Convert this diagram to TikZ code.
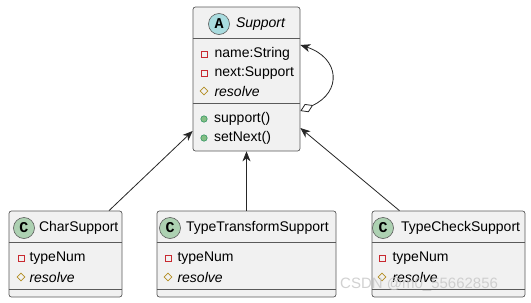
\documentclass[tikz,border=0pt]{standalone}
\usepackage{fontspec}
\setmainfont{Liberation Sans}
\newfontfamily\spotfont{Liberation Mono}
\usetikzlibrary{positioning,calc,arrows.meta,shapes.geometric}
\definecolor{cbg}{HTML}{F1F1F1}
\definecolor{cline}{HTML}{5A5A5A}
\definecolor{cspotA}{HTML}{A9DCDF}
\definecolor{cspotC}{HTML}{ADD1B2}
\definecolor{cpriv}{HTML}{C82930}
\definecolor{cprot}{HTML}{B38D22}
\definecolor{cpubfill}{HTML}{84BE84}
\definecolor{cpubline}{HTML}{038048}
\tikzset{cls/.style={draw=cline, fill=cbg, rounded corners=2.5pt, line width=0.7pt, inner sep=0pt}}
\tikzset{sep/.style={draw=cline, line width=0.7pt}}
\tikzset{spot/.style={circle, draw=cline, line width=0.6pt, minimum size=21pt, inner sep=0pt, font=\spotfont\bfseries\fontsize{15}{15}\selectfont}}
\tikzset{title/.style={anchor=west, inner sep=0pt, font=\fontsize{14}{16}\selectfont}}
\tikzset{mem/.style={anchor=west, inner sep=0pt, font=\fontsize{14}{16}\selectfont}}
\tikzset{priv/.style={draw=cpriv, line width=0.7pt, minimum size=6pt, inner sep=0pt}}
\tikzset{prot/.style={diamond, draw=cprot, line width=0.7pt, minimum size=8pt, inner sep=0pt}}
\tikzset{pub/.style={circle, fill=cpubfill, draw=cpubline, line width=0.4pt, minimum size=6.5pt, inner sep=0pt}}
\tikzset{inh/.style={-{Stealth[length=10pt, width=8pt, inset=3pt]}, line width=0.8pt, black!85}}

\begin{document}
\begin{tikzpicture}[x=1pt, y=-1pt]
        \useasboundingbox[fill=white] (0,0) rectangle (531,303);

        %%% ABSTRACT CLASS %%%
        \node[cls, minimum width=107pt, minimum height=144pt] (sup) at (246.5,79) {};
        \draw[sep] ($(sup.north west)+(0,32)$) -- ($(sup.north east)+(0,32)$);
        \draw[sep] ($(sup.north west)+(0,97)$) -- ($(sup.north east)+(0,97)$);
        \node[spot, fill=cspotA] (supspot) at (219,24) {A};
        \node[title, right=6pt of supspot] (supname) {\itshape Support};
        \node[priv] (supi1) at (204,54) {};
        \node[mem, right=7pt of supi1] (supm1) {name:String};
        \node[priv] (supi2) at (204,73) {};
        \node[mem, right=7pt of supi2] (supm2) {next:Support};
        \node[prot] (supi3) at (204,91) {};
        \node[mem, right=6pt of supi3] (supm3) {\itshape resolve};
        \node[pub] (supi4) at (204,119) {};
        \node[mem, right=6.5pt of supi4] (supm4) {support()};
        \node[pub] (supi5) at (204,138) {};
        \node[mem, right=6.5pt of supi5] (supm5) {setNext()};

        %%% SUBCLASSES %%%
        \node[cls, minimum width=113pt, minimum height=86pt] (chr) at (65.5,254) {};
        \draw[sep] ($(chr.north west)+(0,32)$) -- ($(chr.north east)+(0,32)$);
        \draw[sep] ($(chr.north west)+(0,79)$) -- ($(chr.north east)+(0,79)$);
        \node[spot, fill=cspotC] (chrspot) at (24,228) {C};
        \node[title, right=4pt of chrspot] (chrname) {CharSupport};
        \node[priv] (chri1) at (21,258) {};
        \node[mem, right=5pt of chri1] (chrm1) {typeNum};
        \node[prot] (chri2) at (21,277) {};
        \node[mem, right=4pt of chri2] (chrm2) {\itshape resolve};

        \node[cls, minimum width=179pt, minimum height=86pt] (tts) at (246.5,254) {};
        \draw[sep] ($(tts.north west)+(0,32)$) -- ($(tts.north east)+(0,32)$);
        \draw[sep] ($(tts.north west)+(0,79)$) -- ($(tts.north east)+(0,79)$);
        \node[spot, fill=cspotC] (ttsspot) at (170,228) {C};
        \node[title, right=5pt of ttsspot] (ttsname) {TypeTransformSupport};
        \node[priv] (ttsi1) at (168,258) {};
        \node[mem, right=6pt of ttsi1] (ttsm1) {typeNum};
        \node[prot] (ttsi2) at (168,277) {};
        \node[mem, right=5pt of ttsi2] (ttsm2) {\itshape resolve};

        \node[cls, minimum width=153pt, minimum height=86pt] (tcs) at (448.5,254) {};
        \draw[sep] ($(tcs.north west)+(0,32)$) -- ($(tcs.north east)+(0,32)$);
        \draw[sep] ($(tcs.north west)+(0,79)$) -- ($(tcs.north east)+(0,79)$);
        \node[spot, fill=cspotC] (tcsspot) at (383,228) {C};
        \node[title, right=7pt of tcsspot] (tcsname) {TypeCheckSupport};
        \node[priv] (tcsi1) at (382,258) {};
        \node[mem, right=7pt of tcsi1] (tcsm1) {typeNum};
        \node[prot] (tcsi2) at (382,277) {};
        \node[mem, right=6pt of tcsi2] (tcsm2) {\itshape resolve};

        %%% ARROWS %%%
        \draw[inh] ($(chr.north)+(43.5,0)$) -- ($(sup.west)+(0,52)$);
        \draw[inh] (tts.north) -- (sup.south);
        \draw[inh] ($(tcs.north)+(-49,0)$) -- ($(sup.east)+(0,49)$);
        \draw[{Diamond[open, fill=white, length=14pt, width=9pt]}-{Stealth[length=10pt, width=8pt, inset=3pt]}, line width=0.8pt, black!85]
            ($(sup.east)+(0,32)$) .. controls (342,92) and (340,58) .. ($(sup.east)+(0,-34)$);

        %%% WATERMARK %%%
        \node[mem, text=gray!45, opacity=0.8, font=\fontsize{15}{17}\selectfont] (mark) at (340,285) {CSDN @m0\_55662856};
\end{tikzpicture}
\end{document}
